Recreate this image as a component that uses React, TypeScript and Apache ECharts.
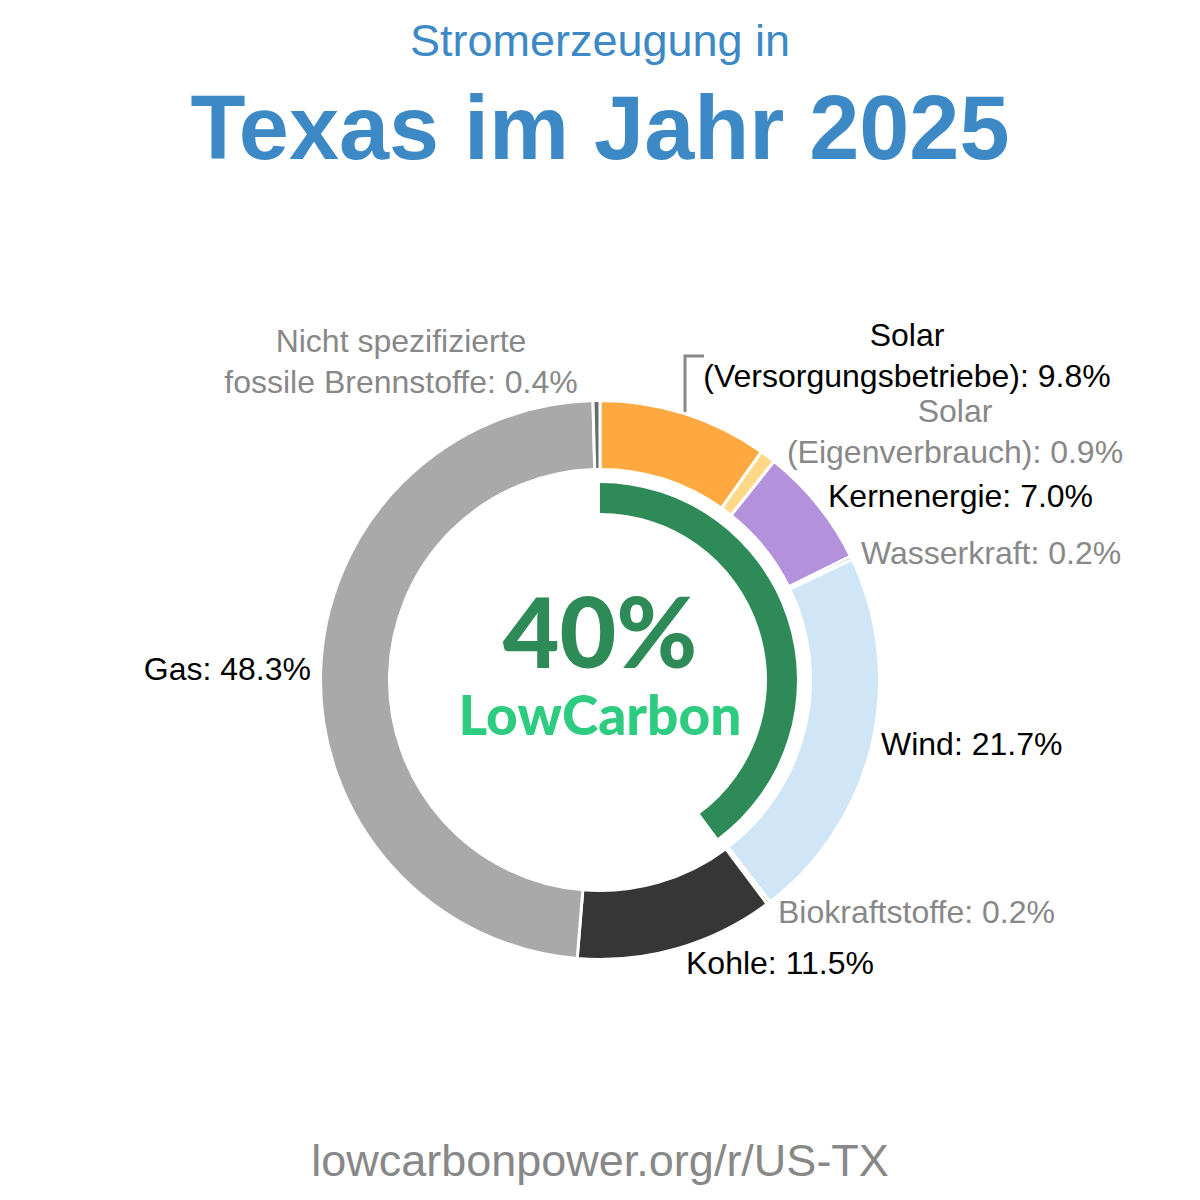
import React, { useEffect, useRef } from "react";
import * as echarts from "echarts";

const names = [
  "Solar\n(Versorgungsbetriebe)",
  "Solar\n(Eigenverbrauch)",
  "Kernenergie",
  "Wasserkraft",
  "Wind",
  "Biokraftstoffe",
  "Kohle",
  "Gas",
  "Nicht spezifizierte\nfossile Brennstoffe",
];
const values = [9.8, 0.9, 7.0, 0.2, 21.7, 0.2, 11.5, 48.3, 0.4];
const lowCarbonShare = 39.8;
const lowCarbonLabel = "40%";

const colors = ["#FFA940", "#FFD888", "#B391DB", "#5B9BD5", "#D0E6F6", "#8FBC5A", "#363636", "#A9A9A9", "#6B6B6B"];
const labelPos = [
  { x: 907, y: 355, align: "center" },
  { x: 955, y: 431, align: "center" },
  { x: 828, y: 496, align: "left" },
  { x: 861, y: 553, align: "left" },
  { x: 881, y: 744, align: "left" },
  { x: 778, y: 912, align: "left" },
  { x: 686, y: 963, align: "left" },
  { x: 311, y: 669, align: "right" },
  { x: 401, y: 361, align: "center" },
];
const FONT = "'Liberation Sans', Arial, sans-serif";

export default function App() {
  const ref = useRef<HTMLDivElement>(null);
  useEffect(() => {
    document.body.style.margin = "0";
    const chart = echarts.init(ref.current!, null, { renderer: "svg" });
    const pieData = names.map((n, i) => ({
      name: n,
      value: values[i],
      itemStyle: { color: colors[i] },
      label: { color: values[i] < 1 ? "#888888" : "#000000" },
      labelLine: i === 0 ? { show: true, lineStyle: { color: "#888888", width: 3 } } : { show: false },
    }));
    chart.setOption({
      animation: false,
      backgroundColor: "#ffffff",
      graphic: [
        { type: "text", x: 600, y: 40, style: { text: "Stromerzeugung in", font: `45px ${FONT}`, fill: "#3C89C5", textAlign: "center", textVerticalAlign: "middle" } },
        { type: "text", x: 600, y: 128, style: { text: "Texas im Jahr 2025", font: `bold 90px ${FONT}`, fill: "#3C89C5", textAlign: "center", textVerticalAlign: "middle" } },
        { type: "text", x: 600, y: 630, style: { text: lowCarbonLabel, font: `900 98px Lato, ${FONT}`, fill: "#2E8B57", textAlign: "center", textVerticalAlign: "middle" } },
        { type: "text", x: 600, y: 714, style: { text: "LowCarbon", font: `900 55px Lato, ${FONT}`, fill: "#2ECC80", textAlign: "center", textVerticalAlign: "middle" } },
        { type: "text", x: 600, y: 1160, style: { text: "lowcarbonpower.org/r/US-TX", font: `45px ${FONT}`, fill: "#888888", textAlign: "center", textVerticalAlign: "middle" } },
      ],
      series: [
        {
          type: "pie",
          center: [600, 680],
          radius: [210.5, 279.5],
          startAngle: 90,
          clockwise: true,
          avoidLabelOverlap: false,
          silent: true,
          itemStyle: { borderColor: "#ffffff", borderWidth: 3 },
          label: {
            show: true,
            position: "outside",
            fontFamily: FONT,
            fontSize: 32,
            lineHeight: 41,
            formatter: (p: any) => `${p.name}: ${p.value.toFixed(1)}%`,
          },
          labelLine: { show: false },
          labelLayout: (p: any) => {
            const lp = labelPos[p.dataIndex];
            const res: any = { x: lp.x, y: lp.y, align: lp.align, verticalAlign: "middle" };
            if (p.dataIndex === 0) {
              res.labelLinePoints = [
                [685, 412],
                [685, 356],
                [704, 356],
              ];
            }
            return res;
          },
          data: pieData,
        },
        {
          type: "pie",
          center: [600, 680],
          radius: [167, 197],
          startAngle: 90,
          clockwise: true,
          silent: true,
          label: { show: false },
          labelLine: { show: false },
          data: [
            { name: "Low carbon", value: lowCarbonShare, itemStyle: { color: "#2E8B57" } },
            { name: "Rest", value: 100 - lowCarbonShare, itemStyle: { color: "rgba(0,0,0,0)" } },
          ],
        },
      ],
    });
    return () => chart.dispose();
  }, []);
  return <div ref={ref} style={{ width: 1200, height: 1200 }} />;
}
